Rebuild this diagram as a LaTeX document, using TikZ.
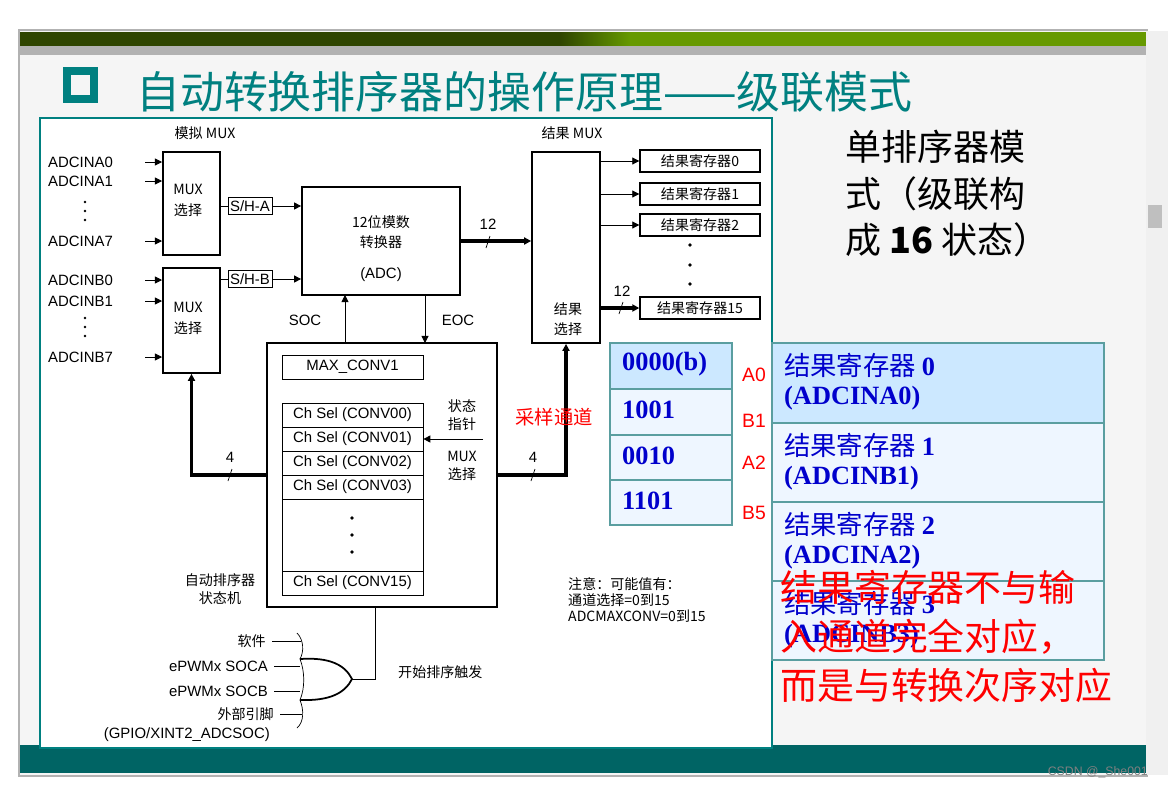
\documentclass[tikz,border=0pt]{standalone}
\usepackage{fontspec}
\setmainfont{Liberation Sans}
\newfontfamily\cjk{Noto Sans CJK SC}
\newfontfamily\serifb{Liberation Serif}
\usetikzlibrary{arrows.meta}
\definecolor{teal1}{HTML}{008080}
\definecolor{tealdk}{HTML}{006464}
\definecolor{lb1}{HTML}{CCE8FF}
\definecolor{lb2}{HTML}{EEF6FF}
\definecolor{bord}{HTML}{5A9EA0}
\definecolor{gdk}{RGB}{47,69,0}
\definecolor{glt}{RGB}{102,153,0}
\newcommand{\fs}[1]{\fontsize{#1}{#1}\selectfont}
\begin{document}
\begin{tikzpicture}[x=0.02cm,y=-0.02cm,
  blk/.style={draw,line width=1pt,inner sep=0pt},
  sm/.style={font=\fs{8.5}},
  smc/.style={font=\cjk\fs{8}},
  arr/.style={-{Triangle[length=4pt,width=4pt]},line width=0.5pt},
  thk/.style={-{Triangle[length=4pt,width=4pt]},line width=1.8pt},
  tb/.style={draw=bord,line width=0.8pt},
  bt/.style={text=blue!80!black,font=\serifb\bfseries\fs{15},anchor=west},
  bc/.style={text=blue!80!black,font=\cjk\fs{15},anchor=west},
  rl/.style={text=red,font=\fs{11},anchor=west}]
\useasboundingbox (0,0) rectangle (1168,788);
\fill[white] (0,0) rectangle (1168,788);
\fill[gray!60] (18,29) rectangle (1148,777);
\fill[black!4] (20,31) rectangle (1146,775);
\fill[black!6] (1146,31) rectangle (1168,775);
\fill[black!25] (1148,205) rectangle (1162,228);
\shade[left color=gdk, right color=glt] (560,32) rectangle (630,46);
\fill[gdk] (20,32) rectangle (560,46);
\fill[glt] (630,32) rectangle (1146,46);
\fill[black!30] (20,46) rectangle (1146,55);
\fill[tealdk] (20,745) rectangle (1146,773);
\node[font=\fs{7},text=black!50,anchor=east] (wm) at (1154,772) {CSDN @\_She001};
% title
\draw[teal1,line width=4pt] (67,71) rectangle (94,99);
\node[anchor=west,text=teal1,font=\cjk\fs{25}] (title) at (130,92) {自动转换排序器的操作原理——级联模式};
% diagram panel
\draw[fill=white,draw=teal1,line width=1pt] (40,118) rectangle (772,748);
\node[smc] (l1) at (205,133) {模拟 MUX};
\node[smc] (l2) at (572,133) {结果 MUX};
% MUX boxes
\node[blk,minimum width=57*0.02cm,minimum height=103*0.02cm] (muxa) at (191.5,203.5) {};
\node[smc,align=center] at (188,200) {MUX\\[4pt]选择};
\node[blk,minimum width=57*0.02cm,minimum height=105*0.02cm] (muxb) at (191.5,320.5) {};
\node[smc,align=center] at (188,318) {MUX\\[4pt]选择};
% inputs
\foreach \t/\y in {ADCINA0/162,ADCINA1/181,ADCINA7/241,ADCINB0/280,ADCINB1/301,ADCINB7/357}{
  \node[sm,anchor=west] (in\t) at (42,\y) {\t};
  \coordinate (s\t) at (145,\y);
  \draw[arr] (s\t) -- (162,\y);
}
\foreach \y in {202,211,220,318,327,336} \fill (85,\y) circle (1.3);
% S/H
\node[draw,sm,minimum width=44*0.02cm,minimum height=17*0.02cm,inner sep=1pt] (sha) at (250,206) {S/H-A};
\node[draw,sm,minimum width=44*0.02cm,minimum height=17*0.02cm,inner sep=1pt] (shb) at (250,279) {S/H-B};
\draw (muxa.east|-sha) -- (sha.west);
\draw (muxb.east|-shb) -- (shb.west);
% ADC
\node[blk,minimum width=158*0.02cm,minimum height=108*0.02cm] (adc) at (381,241) {};
\node[smc] at (381,222) {12位模数};
\node[smc] at (381,242) {转换器};
\node[sm] at (381,275) {(ADC)};
\draw[arr] (sha.east) -- (sha.east-|adc.west);
\draw[arr] (shb.east) -- (shb.east-|adc.west);
% result select
\node[blk,minimum width=68*0.02cm,minimum height=191*0.02cm] (rsel) at (566,247.5) {};
\node[smc,align=center] at (568,319) {结果\\[3pt]选择};
\draw[thk] (adc.east) -- (adc.east-|rsel.west);
\node[sm] at (488,224) {12};
\draw (486,248) -- (490,236);
% result registers
\foreach \n/\y in {0/161,1/194,2/225,15/308}{
  \node[draw,line width=0.8pt,minimum width=120*0.02cm,minimum height=22*0.02cm,inner sep=0pt,font=\cjk\fs{8}] (r\n) at (700,\y) {结果寄存器\n};
}
\foreach \n in {0,1,2} \draw[arr] (rsel.east|-r\n) -- (r\n.west);
\draw[thk] (rsel.east|-r15) -- (r15.west);
\node[sm] at (622,291) {12};
\draw (619,314) -- (623,302);
\foreach \y in {245,265,284} \fill (690,\y) circle (1.8);
% state machine
\node[blk,minimum width=230*0.02cm,minimum height=264*0.02cm] (sm) at (382,475) {};
\node[draw,sm,minimum width=141*0.02cm,minimum height=24*0.02cm,inner sep=0pt] (maxc) at (352.5,367) {MAX\_CONV1};
\foreach \i/\y in {00/415,01/439,02/463,03/487}{
  \node[draw,sm,minimum width=141*0.02cm,minimum height=24*0.02cm,inner sep=0pt] (c\i) at (352.5,\y) {Ch Sel (CONV\i)};
}
\node[draw,minimum width=141*0.02cm,minimum height=72*0.02cm,inner sep=0pt] (cdots) at (352.5,535) {};
\foreach \y in {518,535,552} \fill (352,\y) circle (1.8);
\node[draw,sm,minimum width=141*0.02cm,minimum height=24*0.02cm,inner sep=0pt] (c15) at (352.5,583) {Ch Sel (CONV15)};
\node[smc,align=center] at (462,415) {状态\\[2pt]指针};
\node[smc,align=center] at (462,466) {MUX\\[2pt]选择};
\coordinate (ptr) at (483,439);
\draw[arr] (ptr) -- (c01.east);
% SOC EOC
\draw[arr] (345,343) -- (345,295);
\draw[arr] (425,295) -- (425,343);
\node[sm] at (305,320) {SOC};
\node[sm] at (458,320) {EOC};
% 4-bit buses
\draw[thk] (sm.west|-0,475) -| (muxb.south);
\node[sm] at (230,457) {4};
\draw (228,481) -- (232,469);
\draw[thk] (sm.east|-0,475) -| (rsel.south);
\node[sm] at (533,457) {4};
\draw (531,481) -- (535,469);
\node[smc,align=center] at (220,589) {自动排序器\\[2pt]状态机};
% notes
\node[smc,anchor=west,align=left] at (562,600) {注意：可能值有：\\[1pt]通道选择=0到15\\[1pt]ADCMAXCONV=0到15};
% trigger
\node[smc,anchor=east] (sw) at (272,641) {软件};
\node[sm,anchor=east] (pa) at (274,666) {ePWMx SOCA};
\node[sm,anchor=east] (pb) at (274,691) {ePWMx SOCB};
\node[smc,anchor=east] (ext) at (280,714) {外部引脚};
\node[sm,anchor=east] (gp) at (276,735) {(GPIO/XINT2\_ADCSOC)};
\draw (sw.east) -- (301,641);
\draw (pa.east) -- (300,666);
\draw (pb.east) -- (300,691);
\draw (ext.east) -- (302,714);
\draw (297,633) .. controls (304,640) and (304,652) .. (300,659)
      .. controls (305,672) and (305,688) .. (300,700)
      .. controls (304,710) and (304,722) .. (297,728);
\draw[line width=1pt] (300,659) .. controls (330,657) and (345,665) .. (352,679)
      .. controls (345,693) and (330,701) .. (300,700);
\coordinate (orout) at (352,679);
\draw (375,607) -- (375,679) -- (orout);
\node[smc,anchor=west] at (392,672) {开始排序触发};
% right text
\node[anchor=north west,align=left,font=\cjk\fs{20.5},inner sep=0pt] (mode) at (845,130) {单排序器模\\[6pt]式（级联构\\[6pt]成 \textbf{16} 状态）};
% left table
\foreach \i/\a/\b/\v/\f in {0/343/389/0000(b)/lb1,1/389/435/1001/lb2,2/435/480/0010/lb2,3/480/525/1101/lb2}{
  \draw[tb,fill=\f] (610,\a) rectangle (732,\b);
  \node[bt] (v\i) at (616,{(\a+\b)/2-2}) {\v};
}
\node[rl] at (736,375) {A0};
\node[rl] at (736,421) {B1};
\node[rl] at (736,463) {A2};
\node[rl] at (736,513) {B5};
\node[text=red,font=\cjk\fs{11}] (samp) at (554,417) {采样通道};
% right table
\foreach \i/\a/\b/\t/\f in {0/343/423/ADCINA0/lb1,1/423/502/ADCINB1/lb2,2/502/581/ADCINA2/lb2,3/581/660/ADCINB3/lb2}{
  \draw[tb,fill=\f] (772,\a) rectangle (1104,\b);
  \node[bc] (rr\i) at (778,{\a+22}) {结果寄存器 {\serifb\bfseries\i}};
  \node[bt] at (778,{\a+55}) {(\t)};
}
\node[anchor=north west,align=left,text=red,font=\cjk\fs{21},inner sep=0pt] (note) at (780,570) {结果寄存器不与输\\[7pt]入通道完全对应，\\[7pt]而是与转换次序对应};
\end{tikzpicture}
\end{document}
